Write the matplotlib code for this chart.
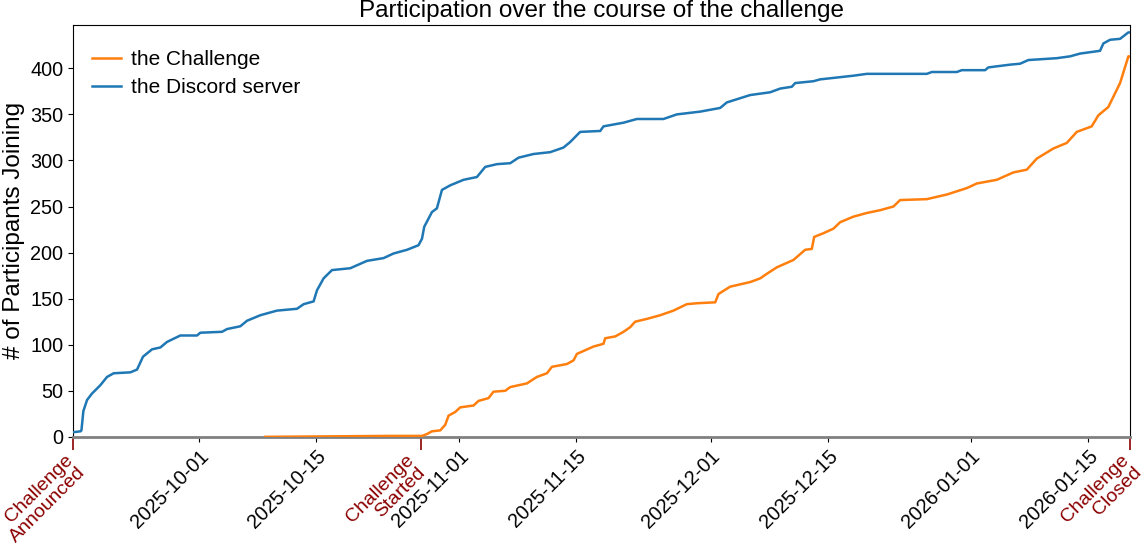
import pandas as pd
import matplotlib
matplotlib.use('Agg')
import matplotlib.pyplot as plt
import matplotlib.dates as mdates

plt.rcParams['font.family'] = ['Liberation Sans', 'DejaVu Sans']

announced = pd.Timestamp('2025-09-16 00:00')
started = pd.Timestamp('2025-10-27 12:00')
closed = pd.Timestamp('2026-01-20 00:00')

milestones = [announced, started, closed]
milestone_labels = ['Challenge\nAnnounced', 'Challenge\nStarted', 'Challenge\nClosed']

# days since announcement -> cumulative number of people
discord_days = [0, 0.9, 1.0, 1.23, 1.67, 2.26, 3.25, 4.05, 4.84, 6.83,
                7.63, 8.34, 9.42, 10.41, 11.2, 12.79, 14.78, 15.17, 17.76, 18.36,
                19.94, 20.74, 22.33, 24.31, 26.7, 27.49, 28.68, 29.08, 29.87, 30.87,
                33.05, 35.04, 37.02, 38.21, 39.81, 41.19, 41.6, 41.87, 42.79, 43.38,
                43.98, 44.97, 46.56, 48.15, 49.14, 50.54, 52.12, 53.11, 54.9, 56.89,
                58.47, 59.27, 60.46, 62.85, 63.24, 65.63, 67.22, 70.39, 71.99, 74.77,
                77.15, 77.95, 80.73, 83.11, 84.3, 85.7, 86.09, 88.27, 89.07, 93.04,
                94.64, 101.79, 102.38, 105.36, 105.96, 108.74, 109.13, 111.72, 112.91, 113.9,
                117.28, 118.87, 120.06, 122.44, 122.84, 123.64, 124.83, 125.82, 126]
discord_count = [5, 6, 7, 28, 40, 47, 56, 65, 69, 70,
                 73, 87, 95, 97, 103, 110, 110, 113, 114, 117,
                 120, 126, 132, 137, 139, 144, 147, 159, 172, 181,
                 183, 191, 194, 199, 203, 208, 215, 228, 244, 248,
                 268, 273, 279, 282, 293, 296, 297, 303, 307, 309,
                 314, 320, 331, 332, 337, 341, 345, 345, 350, 353,
                 357, 363, 371, 374, 378, 380, 384, 386, 388, 392,
                 394, 394, 396, 396, 398, 398, 401, 404, 405, 409,
                 411, 413, 416, 419, 427, 431, 432, 439, 439]

challenge_days = [22.92, 37.82, 41.6, 42.19, 42.79, 43.78, 44.37, 44.77, 45.57, 46.16,
                  47.75, 48.34, 49.53, 50.13, 51.53, 52.12, 54.11, 55.3, 56.5, 57.09,
                  58.88, 59.67, 60.07, 61.06, 62.05, 63.24, 63.44, 64.64, 65.63, 66.42,
                  67.02, 68.41, 70.0, 71.58, 73.18, 74.37, 76.56, 76.95, 78.34, 80.73,
                  81.92, 82.72, 83.91, 85.89, 87.28, 88.08, 88.36, 89.46, 90.66, 91.46,
                  93.04, 94.64, 96.22, 97.81, 98.61, 101.79, 104.17, 106.56, 107.75, 110.13,
                  112.11, 113.71, 114.9, 116.88, 118.47, 119.67, 121.45, 122.24, 123.43, 124.83,
                  125.82, 126]
challenge_count = [0, 1, 1, 3, 6, 7, 13, 23, 27, 32,
                   34, 39, 42, 49, 50, 54, 58, 65, 69, 76,
                   79, 83, 90, 94, 98, 101, 107, 109, 114, 119,
                   125, 128, 132, 137, 144, 145, 146, 155, 163, 168,
                   172, 177, 184, 192, 203, 204, 217, 221, 226, 233,
                   239, 243, 246, 250, 257, 258, 263, 270, 275, 279,
                   287, 290, 302, 313, 319, 331, 337, 349, 358, 384,
                   413, 413]

discord_dates = announced + pd.to_timedelta(discord_days, unit='D')
challenge_dates = announced + pd.to_timedelta(challenge_days, unit='D')

fig = plt.figure(figsize=(11.45, 5.44), dpi=100)
ax = fig.add_axes([0.0638, 0.197, 0.923, 0.757])

l_discord, = ax.plot(discord_dates, discord_count,
                     color='#1f77b4', lw=1.8, zorder=3, label='the Discord server')
l_chal, = ax.plot(challenge_dates, challenge_count,
                  color='#ff7f0e', lw=1.8, zorder=3, label='the Challenge')

ax.set_xlim(announced, closed)
ax.set_ylim(0, 447)
ax.set_yticks(range(0, 401, 50))

ax.xaxis.set_major_locator(mdates.DayLocator(bymonthday=[1, 15]))
ax.xaxis.set_major_formatter(mdates.DateFormatter('%Y-%m-%d'))
ax.set_xticks(milestones, minor=True)

ax.tick_params(axis='both', which='major', labelsize=14.3, length=3.5, color='black')
ax.tick_params(axis='x', which='minor', length=9.5, width=1.2, color='darkred')
for lab in ax.get_xticklabels():
    lab.set_rotation(45)
    lab.set_ha('right')
    lab.set_rotation_mode('anchor')

# milestone labels under the red ticks
nudge = [1.5, -4, 1]
for m, txt, dx in zip(milestones, milestone_labels, nudge):
    ax.annotate(txt, xy=(m, 0), xycoords=('data', 'axes fraction'),
                xytext=(-7.6 + dx, -10.7), textcoords='offset points',
                rotation=45, rotation_mode='anchor', ha='right', va='top',
                linespacing=1.0, fontsize=14, color='darkred',
                annotation_clip=False)

ax.spines['bottom'].set_color('gray')
ax.spines['bottom'].set_linewidth(2)

ax.set_ylabel('# of Participants Joining', fontsize=17.5)
ax.set_title('Participation over the course of the challenge', fontsize=17.5)

ax.legend(handles=[l_chal, l_discord], loc='upper left', bbox_to_anchor=(0, 0.985),
          frameon=False, fontsize=15, handlelength=1.4, handletextpad=0.5,
          labelspacing=0.45)

plt.savefig('out.png', dpi=100)
